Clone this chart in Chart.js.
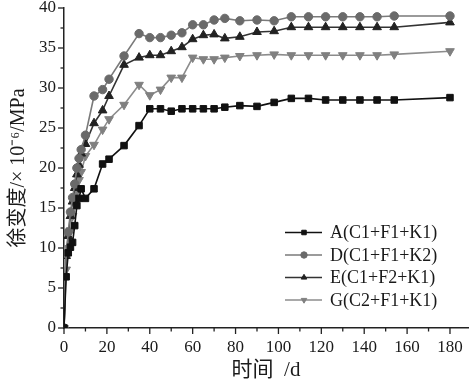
<!DOCTYPE html>
<html lang="zh-CN">
<head>
<meta charset="UTF-8">
<title>徐变度</title>
<script src="https://cdn.jsdelivr.net/npm/chart.js"></script>
<style>
  html, body { margin: 0; padding: 0; background: #fff; }
  #wrap { width: 474px; height: 387px; }
</style>
</head>
<body>
<div id="wrap"><canvas id="creep"></canvas></div>
<script>
// 龄期 (d)
const days = [0, 1, 2, 3, 4, 5, 6, 7, 8, 10, 14, 18, 21, 28, 35, 40, 45, 50, 55, 60,
              65, 70, 75, 82, 90, 98, 106, 114, 122, 130, 138, 146, 154, 180];
const labels = ['A(C1+F1+K1)', 'D(C1+F1+K2)', 'E(C1+F2+K1)', 'G(C2+F1+K1)'];
const seriesA = [0, 6.4, 9.4, 10.1, 10.7, 12.8, 15.3, 16.2, 17.4, 16.2, 17.4, 20.5, 21.1, 22.8, 25.3, 27.4, 27.4, 27.1, 27.4, 27.4,
                 27.4, 27.4, 27.6, 27.8, 27.7, 28.2, 28.7, 28.7, 28.5, 28.5, 28.5, 28.5, 28.5, 28.8];
const seriesD = [0, 9.3, 12.0, 14.5, 16.3, 18.0, 20.0, 21.2, 22.3, 24.1, 29.0, 29.8, 31.1, 34.0, 36.8, 36.3, 36.3, 36.6, 36.9, 37.9,
                 37.9, 38.5, 38.7, 38.4, 38.5, 38.4, 38.9, 38.9, 38.9, 38.9, 38.9, 38.9, 39.0, 39.0];
const seriesE = [0, 9.0, 11.5, 14.0, 15.8, 17.5, 19.2, 20.4, 21.8, 23.0, 25.6, 27.2, 29.0, 32.9, 33.8, 34.1, 34.1, 34.6, 35.1, 36.1,
                 36.6, 36.7, 36.2, 36.4, 37.0, 37.1, 37.6, 37.6, 37.6, 37.6, 37.6, 37.6, 37.6, 38.2];
const seriesG = [0, 7.3, 10.0, 12.2, 14.0, 15.5, 17.0, 18.5, 19.5, 21.5, 22.9, 24.8, 26.1, 27.9, 30.4, 29.1, 29.8, 31.3, 31.3, 33.8,
                 33.6, 33.6, 33.8, 34.0, 34.1, 34.2, 34.1, 34.1, 34.1, 34.1, 34.1, 34.1, 34.2, 34.6];

const serif = "'Liberation Serif', 'Noto Sans CJK SC', serif";

function pts(vals) { return days.map((d, i) => ({ x: d, y: vals[i] })); }

const styles = [
  { line: '#111', fill: '#111', shape: 'rect', r: 4.6, rot: 0 },
  { line: '#7a7a7a', fill: '#6a6a6a', shape: 'circle', r: 4.2, rot: 0 },
  { line: '#333', fill: '#222', shape: 'triangle', r: 5, rot: 0 },
  { line: '#8c8c8c', fill: '#808080', shape: 'triangle', r: 5, rot: 180 }
];
const allSeries = [seriesA, seriesD, seriesE, seriesG];

// 刻度线与图例
const decor = {
  id: 'decor',
  afterDraw(chart) {
    const ctx = chart.ctx, x = chart.scales.x, y = chart.scales.y;
    const ca = chart.chartArea;
    ctx.save();
    ctx.strokeStyle = '#222';
    ctx.lineWidth = 1.3;
    for (let v = 0; v <= x.max; v += 10) {
      const px = x.getPixelForValue(v);
      const len = v % 20 === 0 ? 6 : 3.5;
      ctx.beginPath(); ctx.moveTo(px, ca.bottom); ctx.lineTo(px, ca.bottom + len); ctx.stroke();
    }
    for (let v = 0; v <= 40; v += 2.5) {
      const py = y.getPixelForValue(v);
      const len = v % 5 === 0 ? 6 : 3.5;
      ctx.beginPath(); ctx.moveTo(ca.left, py); ctx.lineTo(ca.left - len, py); ctx.stroke();
    }
    // legend
    const lx = 285, ly = 232.5, dy = 22.5;
    chart.data.datasets.forEach((ds, i) => {
      const yy = ly + i * dy;
      ctx.strokeStyle = ds.borderColor;
      ctx.lineWidth = 1.6;
      ctx.beginPath(); ctx.moveTo(lx, yy); ctx.lineTo(lx + 37, yy); ctx.stroke();
      ctx.fillStyle = ds.pointBackgroundColor;
      ctx.strokeStyle = ds.pointBorderColor;
      ctx.lineWidth = 1;
      Chart.helpers.drawPoint(ctx, {
        pointStyle: ds.pointStyle, rotation: ds.pointRotation, radius: 3.2, borderWidth: 1
      }, lx + 19, yy);
      ctx.fillStyle = '#1a1a1a';
      ctx.font = '18px ' + serif;
      ctx.textBaseline = 'middle';
      ctx.textAlign = 'left';
      ctx.fillText(ds.label, lx + 45, yy + 1);
    });
    ctx.restore();
  }
};

new Chart(document.getElementById('creep'), {
  type: 'line',
  data: {
    datasets: allSeries.map((s, i) => ({
      label: labels[i],
      data: pts(s),
      borderColor: styles[i].line,
      borderWidth: 1.6,
      pointStyle: styles[i].shape,
      pointRotation: styles[i].rot,
      pointRadius: styles[i].r,
      pointBackgroundColor: styles[i].fill,
      pointBorderColor: styles[i].fill,
      pointBorderWidth: 1,
      tension: 0
    }))
  },
  options: {
    responsive: true,
    maintainAspectRatio: false,
    animation: false,
    layout: { padding: { top: 6, right: 3, left: 3, bottom: 0 } },
    plugins: { legend: { display: false }, tooltip: { enabled: false } },
    scales: {
      x: {
        type: 'linear', min: 0, max: 188.4,
        afterFit: s => { s.height = 59; s.paddingRight = 0; },
        grid: { display: true, drawOnChartArea: false, drawTicks: false },
        border: { display: true, color: '#222', width: 1.5 },
        ticks: {
          stepSize: 20, padding: 9, color: '#1a1a1a', maxRotation: 0, autoSkip: false,
          includeBounds: false,
          font: { family: serif, size: 17 }
        },
        title: { display: true, text: '时间  /d', color: '#1a1a1a', padding: { top: 2 },
                 font: { family: serif, size: 21 } }
      },
      y: {
        min: 0, max: 40,
        afterFit: s => { s.width = 61; s.paddingTop = 8; },
        grid: { display: true, drawOnChartArea: false, drawTicks: false },
        border: { display: true, color: '#222', width: 1.5 },
        ticks: {
          stepSize: 5, padding: 8, color: '#1a1a1a',
          font: { family: serif, size: 17 }
        },
        title: { display: true, text: '徐变度/× 10⁻⁶/MPa', color: '#1a1a1a', padding: { bottom: 0 },
                 font: { family: serif, size: 20 } }
      }
    }
  },
  plugins: [decor]
});
</script>
</body>
</html>
